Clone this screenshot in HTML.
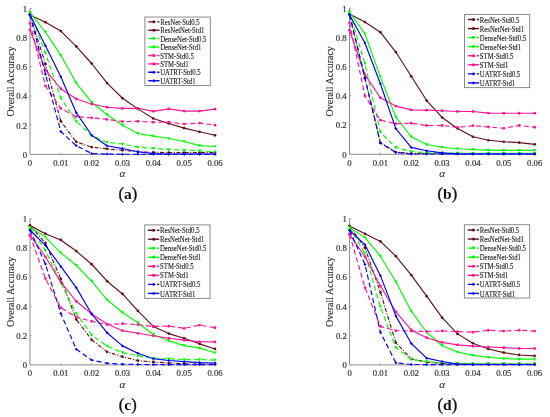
<!DOCTYPE html>
<html><head><meta charset="utf-8"><title>Overall Accuracy vs alpha</title>
<style>
html,body{margin:0;padding:0;background:#fff;}
svg{display:block;filter:blur(0.25px);}
text{font-family:"Liberation Serif","Times New Roman",serif;fill:#333333;}
.tk{font-size:8.7px;stroke:#333333;stroke-width:0.18px;}
.lg{font-size:7.25px;fill:#222;stroke:#222;stroke-width:0.12px;}
.yl{font-size:10px;stroke:#333333;stroke-width:0.15px;}
.al{font-size:11px;font-style:italic;stroke:#333333;stroke-width:0.1px;}
.cap{font-size:15.5px;font-weight:bold;fill:#111;}
.par{font-size:16.5px;font-weight:normal;stroke:#111;stroke-width:0.35px;}
</style></head>
<body>
<svg width="550" height="417" viewBox="0 0 550 417">
<rect width="550" height="417" fill="#fff"/>
<path d="M30.00 8.50V154.40H215.00" fill="none" stroke="#8a8a8a" stroke-width="1"/>
<path d="M30.00 125.22h1.6 M30.00 96.04h1.6 M30.00 66.86h1.6 M30.00 37.68h1.6 M30.00 8.50h1.6 M60.83 154.40v-1.6 M91.67 154.40v-1.6 M122.50 154.40v-1.6 M153.33 154.40v-1.6 M184.17 154.40v-1.6 M215.00 154.40v-1.6" stroke="#8a8a8a" stroke-width="0.8"/>
<text x="27.20" y="157.70" class="tk" text-anchor="end">0</text>
<text x="27.20" y="128.52" class="tk" text-anchor="end">0.2</text>
<text x="27.20" y="99.34" class="tk" text-anchor="end">0.4</text>
<text x="27.20" y="70.16" class="tk" text-anchor="end">0.6</text>
<text x="27.20" y="40.98" class="tk" text-anchor="end">0.8</text>
<text x="27.20" y="11.80" class="tk" text-anchor="end">1</text>
<text x="30.00" y="165.70" class="tk" text-anchor="middle">0</text>
<text x="60.83" y="165.70" class="tk" text-anchor="middle">0.01</text>
<text x="91.67" y="165.70" class="tk" text-anchor="middle">0.02</text>
<text x="122.50" y="165.70" class="tk" text-anchor="middle">0.03</text>
<text x="153.33" y="165.70" class="tk" text-anchor="middle">0.04</text>
<text x="184.17" y="165.70" class="tk" text-anchor="middle">0.05</text>
<text x="215.00" y="165.70" class="tk" text-anchor="middle">0.06</text>
<text x="122.50" y="177.20" class="al" text-anchor="middle">α</text>
<text transform="translate(13.70 81.45) rotate(-90)" class="yl" text-anchor="middle">Overall Accuracy</text>
<text x="127.80" y="199.10" class="cap" text-anchor="middle"><tspan class="par">(</tspan>a<tspan class="par">)</tspan></text>
<polyline points="30.00,14.92 45.42,63.94 60.83,121.28 76.25,141.85 91.67,147.11 107.08,148.86 122.50,150.31 137.92,151.77 153.33,152.36 168.75,152.50 184.17,152.65 199.58,152.65 215.00,152.65" fill="none" stroke="#641018" stroke-width="1.15" stroke-dasharray="4 1.6 1 1.6" stroke-linejoin="round"/>
<circle cx="30.00" cy="14.92" r="1.35" fill="#641018"/>
<circle cx="45.42" cy="63.94" r="1.35" fill="#641018"/>
<circle cx="60.83" cy="121.28" r="1.35" fill="#641018"/>
<circle cx="76.25" cy="141.85" r="1.35" fill="#641018"/>
<circle cx="91.67" cy="147.11" r="1.35" fill="#641018"/>
<circle cx="107.08" cy="148.86" r="1.35" fill="#641018"/>
<circle cx="122.50" cy="150.31" r="1.35" fill="#641018"/>
<circle cx="137.92" cy="151.77" r="1.35" fill="#641018"/>
<circle cx="153.33" cy="152.36" r="1.35" fill="#641018"/>
<circle cx="168.75" cy="152.50" r="1.35" fill="#641018"/>
<circle cx="184.17" cy="152.65" r="1.35" fill="#641018"/>
<circle cx="199.58" cy="152.65" r="1.35" fill="#641018"/>
<circle cx="215.00" cy="152.65" r="1.35" fill="#641018"/>
<polyline points="30.00,14.92 45.42,22.21 60.83,31.11 76.25,46.43 91.67,63.50 107.08,83.05 122.50,98.23 137.92,108.88 153.33,118.51 168.75,123.47 184.17,128.14 199.58,131.79 215.00,135.29" fill="none" stroke="#641018" stroke-width="1.15" stroke-linejoin="round"/>
<circle cx="30.00" cy="14.92" r="1.35" fill="#641018"/>
<circle cx="45.42" cy="22.21" r="1.35" fill="#641018"/>
<circle cx="60.83" cy="31.11" r="1.35" fill="#641018"/>
<circle cx="76.25" cy="46.43" r="1.35" fill="#641018"/>
<circle cx="91.67" cy="63.50" r="1.35" fill="#641018"/>
<circle cx="107.08" cy="83.05" r="1.35" fill="#641018"/>
<circle cx="122.50" cy="98.23" r="1.35" fill="#641018"/>
<circle cx="137.92" cy="108.88" r="1.35" fill="#641018"/>
<circle cx="153.33" cy="118.51" r="1.35" fill="#641018"/>
<circle cx="168.75" cy="123.47" r="1.35" fill="#641018"/>
<circle cx="184.17" cy="128.14" r="1.35" fill="#641018"/>
<circle cx="199.58" cy="131.79" r="1.35" fill="#641018"/>
<circle cx="215.00" cy="135.29" r="1.35" fill="#641018"/>
<polyline points="30.00,12.59 45.42,53.00 60.83,97.94 76.25,121.28 91.67,135.72 107.08,142.29 122.50,144.04 137.92,147.11 153.33,148.27 168.75,149.59 184.17,150.02 199.58,150.90 215.00,151.77" fill="none" stroke="#00ff00" stroke-width="1.15" stroke-dasharray="5 3" stroke-linejoin="round"/>
<path d="M28.30 11.23H31.70L30.00 14.29Z" fill="#00ff00"/>
<path d="M43.72 51.64H47.12L45.42 54.70Z" fill="#00ff00"/>
<path d="M59.13 96.58H62.53L60.83 99.64Z" fill="#00ff00"/>
<path d="M74.55 119.92H77.95L76.25 122.98Z" fill="#00ff00"/>
<path d="M89.97 134.36H93.37L91.67 137.42Z" fill="#00ff00"/>
<path d="M105.38 140.93H108.78L107.08 143.99Z" fill="#00ff00"/>
<path d="M120.80 142.68H124.20L122.50 145.74Z" fill="#00ff00"/>
<path d="M136.22 145.75H139.62L137.92 148.81Z" fill="#00ff00"/>
<path d="M151.63 146.91H155.03L153.33 149.97Z" fill="#00ff00"/>
<path d="M167.05 148.23H170.45L168.75 151.29Z" fill="#00ff00"/>
<path d="M182.47 148.66H185.87L184.17 151.72Z" fill="#00ff00"/>
<path d="M197.88 149.54H201.28L199.58 152.60Z" fill="#00ff00"/>
<path d="M213.30 150.41H216.70L215.00 153.47Z" fill="#00ff00"/>
<polyline points="30.00,12.59 45.42,31.99 60.83,55.33 76.25,83.05 91.67,102.31 107.08,114.72 122.50,125.22 137.92,133.54 153.33,136.16 168.75,138.50 184.17,141.56 199.58,145.65 215.00,146.52" fill="none" stroke="#00ff00" stroke-width="1.15" stroke-linejoin="round"/>
<path d="M28.30 11.23H31.70L30.00 14.29Z" fill="#00ff00"/>
<path d="M43.72 30.63H47.12L45.42 33.69Z" fill="#00ff00"/>
<path d="M59.13 53.97H62.53L60.83 57.03Z" fill="#00ff00"/>
<path d="M74.55 81.69H77.95L76.25 84.75Z" fill="#00ff00"/>
<path d="M89.97 100.95H93.37L91.67 104.01Z" fill="#00ff00"/>
<path d="M105.38 113.36H108.78L107.08 116.42Z" fill="#00ff00"/>
<path d="M120.80 123.86H124.20L122.50 126.92Z" fill="#00ff00"/>
<path d="M136.22 132.18H139.62L137.92 135.24Z" fill="#00ff00"/>
<path d="M151.63 134.80H155.03L153.33 137.86Z" fill="#00ff00"/>
<path d="M167.05 137.14H170.45L168.75 140.20Z" fill="#00ff00"/>
<path d="M182.47 140.20H185.87L184.17 143.26Z" fill="#00ff00"/>
<path d="M197.88 144.29H201.28L199.58 147.35Z" fill="#00ff00"/>
<path d="M213.30 145.16H216.70L215.00 148.22Z" fill="#00ff00"/>
<polyline points="30.00,23.09 45.42,85.83 60.83,108.44 76.25,116.61 91.67,117.78 107.08,119.38 122.50,121.57 137.92,121.28 153.33,122.16 168.75,122.16 184.17,124.05 199.58,123.03 215.00,125.22" fill="none" stroke="#ff1493" stroke-width="1.15" stroke-dasharray="5 3" stroke-linejoin="round"/>
<circle cx="30.00" cy="23.09" r="1.40" fill="#ff1493"/>
<circle cx="45.42" cy="85.83" r="1.40" fill="#ff1493"/>
<circle cx="60.83" cy="108.44" r="1.40" fill="#ff1493"/>
<circle cx="76.25" cy="116.61" r="1.40" fill="#ff1493"/>
<circle cx="91.67" cy="117.78" r="1.40" fill="#ff1493"/>
<circle cx="107.08" cy="119.38" r="1.40" fill="#ff1493"/>
<circle cx="122.50" cy="121.57" r="1.40" fill="#ff1493"/>
<circle cx="137.92" cy="121.28" r="1.40" fill="#ff1493"/>
<circle cx="153.33" cy="122.16" r="1.40" fill="#ff1493"/>
<circle cx="168.75" cy="122.16" r="1.40" fill="#ff1493"/>
<circle cx="184.17" cy="124.05" r="1.40" fill="#ff1493"/>
<circle cx="199.58" cy="123.03" r="1.40" fill="#ff1493"/>
<circle cx="215.00" cy="125.22" r="1.40" fill="#ff1493"/>
<polyline points="30.00,29.95 45.42,69.78 60.83,88.75 76.25,98.96 91.67,104.06 107.08,107.27 122.50,108.44 137.92,108.30 153.33,111.36 168.75,108.88 184.17,111.07 199.58,111.07 215.00,109.17" fill="none" stroke="#ff1493" stroke-width="1.15" stroke-linejoin="round"/>
<circle cx="30.00" cy="29.95" r="1.40" fill="#ff1493"/>
<circle cx="45.42" cy="69.78" r="1.40" fill="#ff1493"/>
<circle cx="60.83" cy="88.75" r="1.40" fill="#ff1493"/>
<circle cx="76.25" cy="98.96" r="1.40" fill="#ff1493"/>
<circle cx="91.67" cy="104.06" r="1.40" fill="#ff1493"/>
<circle cx="107.08" cy="107.27" r="1.40" fill="#ff1493"/>
<circle cx="122.50" cy="108.44" r="1.40" fill="#ff1493"/>
<circle cx="137.92" cy="108.30" r="1.40" fill="#ff1493"/>
<circle cx="153.33" cy="111.36" r="1.40" fill="#ff1493"/>
<circle cx="168.75" cy="108.88" r="1.40" fill="#ff1493"/>
<circle cx="184.17" cy="111.07" r="1.40" fill="#ff1493"/>
<circle cx="199.58" cy="111.07" r="1.40" fill="#ff1493"/>
<circle cx="215.00" cy="109.17" r="1.40" fill="#ff1493"/>
<polyline points="30.00,14.77 45.42,74.16 60.83,131.49 76.25,145.79 91.67,153.52 107.08,154.11 122.50,154.25 137.92,154.25 153.33,154.25 168.75,154.25 184.17,154.25 199.58,154.25 215.00,154.25" fill="none" stroke="#0000ff" stroke-width="1.15" stroke-dasharray="5 3" stroke-linejoin="round"/>
<path d="M30.00 13.27L31.50 14.77L30.00 16.27L28.50 14.77Z" fill="#0000ff"/>
<path d="M45.42 72.66L46.92 74.16L45.42 75.66L43.92 74.16Z" fill="#0000ff"/>
<path d="M60.83 129.99L62.33 131.49L60.83 132.99L59.33 131.49Z" fill="#0000ff"/>
<path d="M76.25 144.29L77.75 145.79L76.25 147.29L74.75 145.79Z" fill="#0000ff"/>
<path d="M91.67 152.02L93.17 153.52L91.67 155.02L90.17 153.52Z" fill="#0000ff"/>
<path d="M107.08 152.61L108.58 154.11L107.08 155.61L105.58 154.11Z" fill="#0000ff"/>
<path d="M122.50 152.75L124.00 154.25L122.50 155.75L121.00 154.25Z" fill="#0000ff"/>
<path d="M137.92 152.75L139.42 154.25L137.92 155.75L136.42 154.25Z" fill="#0000ff"/>
<path d="M153.33 152.75L154.83 154.25L153.33 155.75L151.83 154.25Z" fill="#0000ff"/>
<path d="M168.75 152.75L170.25 154.25L168.75 155.75L167.25 154.25Z" fill="#0000ff"/>
<path d="M184.17 152.75L185.67 154.25L184.17 155.75L182.67 154.25Z" fill="#0000ff"/>
<path d="M199.58 152.75L201.08 154.25L199.58 155.75L198.08 154.25Z" fill="#0000ff"/>
<path d="M215.00 152.75L216.50 154.25L215.00 155.75L213.50 154.25Z" fill="#0000ff"/>
<polyline points="30.00,14.77 45.42,45.70 60.83,76.78 76.25,112.67 91.67,135.29 107.08,145.79 122.50,148.56 137.92,151.77 153.33,153.67 168.75,153.96 184.17,153.96 199.58,153.96 215.00,153.96" fill="none" stroke="#0000ff" stroke-width="1.15" stroke-linejoin="round"/>
<path d="M30.00 13.27L31.50 14.77L30.00 16.27L28.50 14.77Z" fill="#0000ff"/>
<path d="M45.42 44.20L46.92 45.70L45.42 47.20L43.92 45.70Z" fill="#0000ff"/>
<path d="M60.83 75.28L62.33 76.78L60.83 78.28L59.33 76.78Z" fill="#0000ff"/>
<path d="M76.25 111.17L77.75 112.67L76.25 114.17L74.75 112.67Z" fill="#0000ff"/>
<path d="M91.67 133.79L93.17 135.29L91.67 136.79L90.17 135.29Z" fill="#0000ff"/>
<path d="M107.08 144.29L108.58 145.79L107.08 147.29L105.58 145.79Z" fill="#0000ff"/>
<path d="M122.50 147.06L124.00 148.56L122.50 150.06L121.00 148.56Z" fill="#0000ff"/>
<path d="M137.92 150.27L139.42 151.77L137.92 153.27L136.42 151.77Z" fill="#0000ff"/>
<path d="M153.33 152.17L154.83 153.67L153.33 155.17L151.83 153.67Z" fill="#0000ff"/>
<path d="M168.75 152.46L170.25 153.96L168.75 155.46L167.25 153.96Z" fill="#0000ff"/>
<path d="M184.17 152.46L185.67 153.96L184.17 155.46L182.67 153.96Z" fill="#0000ff"/>
<path d="M199.58 152.46L201.08 153.96L199.58 155.46L198.08 153.96Z" fill="#0000ff"/>
<path d="M215.00 152.46L216.50 153.96L215.00 155.46L213.50 153.96Z" fill="#0000ff"/>
<rect x="144.90" y="17.05" width="65.40" height="68.45" fill="#fff" stroke="#8a8a8a" stroke-width="1"/>
<line x1="148.30" y1="21.85" x2="159.50" y2="21.85" stroke="#641018" stroke-width="1.4" stroke-dasharray="7 1.9 2.3 20"/>
<circle cx="153.90" cy="21.85" r="1.51" fill="#641018"/>
<text x="160.20" y="24.95" class="lg" textLength="39.56" lengthAdjust="spacingAndGlyphs">ResNet-Std0.5</text>
<line x1="148.30" y1="30.26" x2="159.50" y2="30.26" stroke="#641018" stroke-width="1.4"/>
<circle cx="153.90" cy="30.26" r="1.51" fill="#641018"/>
<text x="160.20" y="33.36" class="lg" textLength="44.25" lengthAdjust="spacingAndGlyphs">ResNetNet-Std1</text>
<line x1="148.30" y1="38.67" x2="159.50" y2="38.67" stroke="#00ff00" stroke-width="1.4" stroke-dasharray="7 1.9 2.3 20"/>
<path d="M152.00 37.15H155.80L153.90 40.57Z" fill="#00ff00"/>
<text x="160.20" y="41.77" class="lg" textLength="46.30" lengthAdjust="spacingAndGlyphs">DenseNet-Std0.5</text>
<line x1="148.30" y1="47.08" x2="159.50" y2="47.08" stroke="#00ff00" stroke-width="1.4"/>
<path d="M152.00 45.56H155.80L153.90 48.98Z" fill="#00ff00"/>
<text x="160.20" y="50.18" class="lg" textLength="41.24" lengthAdjust="spacingAndGlyphs">DenseNet-Std1</text>
<line x1="148.30" y1="55.49" x2="159.50" y2="55.49" stroke="#ff1493" stroke-width="1.4" stroke-dasharray="7 1.9 2.3 20"/>
<circle cx="153.90" cy="55.49" r="1.57" fill="#ff1493"/>
<text x="160.20" y="58.59" class="lg" textLength="33.57" lengthAdjust="spacingAndGlyphs">STM-Std0.5</text>
<line x1="148.30" y1="63.90" x2="159.50" y2="63.90" stroke="#ff1493" stroke-width="1.4"/>
<circle cx="153.90" cy="63.90" r="1.57" fill="#ff1493"/>
<text x="160.20" y="67.00" class="lg" textLength="28.51" lengthAdjust="spacingAndGlyphs">STM-Std1</text>
<line x1="148.30" y1="72.31" x2="159.50" y2="72.31" stroke="#0000ff" stroke-width="1.4" stroke-dasharray="7 1.9 2.3 20"/>
<path d="M153.90 70.63L155.58 72.31L153.90 73.99L152.22 72.31Z" fill="#0000ff"/>
<text x="160.20" y="75.41" class="lg" textLength="40.41" lengthAdjust="spacingAndGlyphs">UATRT-Std0.5</text>
<line x1="148.30" y1="80.72" x2="159.50" y2="80.72" stroke="#0000ff" stroke-width="1.4"/>
<path d="M153.90 79.04L155.58 80.72L153.90 82.40L152.22 80.72Z" fill="#0000ff"/>
<text x="160.20" y="83.82" class="lg" textLength="35.35" lengthAdjust="spacingAndGlyphs">UATRT-Std1</text>
<path d="M349.50 8.20V154.30H534.70" fill="none" stroke="#8a8a8a" stroke-width="1"/>
<path d="M349.50 125.08h1.6 M349.50 95.86h1.6 M349.50 66.64h1.6 M349.50 37.42h1.6 M349.50 8.20h1.6 M380.37 154.30v-1.6 M411.23 154.30v-1.6 M442.10 154.30v-1.6 M472.97 154.30v-1.6 M503.83 154.30v-1.6 M534.70 154.30v-1.6" stroke="#8a8a8a" stroke-width="0.8"/>
<text x="346.70" y="157.60" class="tk" text-anchor="end">0</text>
<text x="346.70" y="128.38" class="tk" text-anchor="end">0.2</text>
<text x="346.70" y="99.16" class="tk" text-anchor="end">0.4</text>
<text x="346.70" y="69.94" class="tk" text-anchor="end">0.6</text>
<text x="346.70" y="40.72" class="tk" text-anchor="end">0.8</text>
<text x="346.70" y="11.50" class="tk" text-anchor="end">1</text>
<text x="349.50" y="165.60" class="tk" text-anchor="middle">0</text>
<text x="380.37" y="165.60" class="tk" text-anchor="middle">0.01</text>
<text x="411.23" y="165.60" class="tk" text-anchor="middle">0.02</text>
<text x="442.10" y="165.60" class="tk" text-anchor="middle">0.03</text>
<text x="472.97" y="165.60" class="tk" text-anchor="middle">0.04</text>
<text x="503.83" y="165.60" class="tk" text-anchor="middle">0.05</text>
<text x="534.70" y="165.60" class="tk" text-anchor="middle">0.06</text>
<text x="442.10" y="177.10" class="al" text-anchor="middle">α</text>
<text transform="translate(333.20 81.25) rotate(-90)" class="yl" text-anchor="middle">Overall Accuracy</text>
<text x="447.40" y="199.00" class="cap" text-anchor="middle"><tspan class="par">(</tspan>b<tspan class="par">)</tspan></text>
<polyline points="349.50,14.04 364.93,78.33 380.37,142.90 395.80,152.11 411.23,153.42 426.67,153.42 442.10,153.57 457.53,153.72 472.97,153.72 488.40,153.72 503.83,153.72 519.27,153.72 534.70,153.72" fill="none" stroke="#641018" stroke-width="1.15" stroke-dasharray="4 1.6 1 1.6" stroke-linejoin="round"/>
<circle cx="349.50" cy="14.04" r="1.35" fill="#641018"/>
<circle cx="364.93" cy="78.33" r="1.35" fill="#641018"/>
<circle cx="380.37" cy="142.90" r="1.35" fill="#641018"/>
<circle cx="395.80" cy="152.11" r="1.35" fill="#641018"/>
<circle cx="411.23" cy="153.42" r="1.35" fill="#641018"/>
<circle cx="426.67" cy="153.42" r="1.35" fill="#641018"/>
<circle cx="442.10" cy="153.57" r="1.35" fill="#641018"/>
<circle cx="457.53" cy="153.72" r="1.35" fill="#641018"/>
<circle cx="472.97" cy="153.72" r="1.35" fill="#641018"/>
<circle cx="488.40" cy="153.72" r="1.35" fill="#641018"/>
<circle cx="503.83" cy="153.72" r="1.35" fill="#641018"/>
<circle cx="519.27" cy="153.72" r="1.35" fill="#641018"/>
<circle cx="534.70" cy="153.72" r="1.35" fill="#641018"/>
<polyline points="349.50,14.04 364.93,22.08 380.37,32.16 395.80,52.03 411.23,76.28 426.67,100.54 442.10,117.48 457.53,128.44 472.97,136.77 488.40,140.27 503.83,141.74 519.27,142.61 534.70,144.37" fill="none" stroke="#641018" stroke-width="1.15" stroke-linejoin="round"/>
<circle cx="349.50" cy="14.04" r="1.35" fill="#641018"/>
<circle cx="364.93" cy="22.08" r="1.35" fill="#641018"/>
<circle cx="380.37" cy="32.16" r="1.35" fill="#641018"/>
<circle cx="395.80" cy="52.03" r="1.35" fill="#641018"/>
<circle cx="411.23" cy="76.28" r="1.35" fill="#641018"/>
<circle cx="426.67" cy="100.54" r="1.35" fill="#641018"/>
<circle cx="442.10" cy="117.48" r="1.35" fill="#641018"/>
<circle cx="457.53" cy="128.44" r="1.35" fill="#641018"/>
<circle cx="472.97" cy="136.77" r="1.35" fill="#641018"/>
<circle cx="488.40" cy="140.27" r="1.35" fill="#641018"/>
<circle cx="503.83" cy="141.74" r="1.35" fill="#641018"/>
<circle cx="519.27" cy="142.61" r="1.35" fill="#641018"/>
<circle cx="534.70" cy="144.37" r="1.35" fill="#641018"/>
<polyline points="349.50,12.14 364.93,63.72 380.37,132.09 395.80,147.58 411.23,151.52 426.67,152.69 442.10,152.99 457.53,153.13 472.97,153.28 488.40,153.42 503.83,153.42 519.27,153.42 534.70,153.42" fill="none" stroke="#00ff00" stroke-width="1.15" stroke-dasharray="5 3" stroke-linejoin="round"/>
<path d="M347.80 10.78H351.20L349.50 13.84Z" fill="#00ff00"/>
<path d="M363.23 62.36H366.63L364.93 65.42Z" fill="#00ff00"/>
<path d="M378.67 130.73H382.07L380.37 133.79Z" fill="#00ff00"/>
<path d="M394.10 146.22H397.50L395.80 149.28Z" fill="#00ff00"/>
<path d="M409.53 150.16H412.93L411.23 153.22Z" fill="#00ff00"/>
<path d="M424.97 151.33H428.37L426.67 154.39Z" fill="#00ff00"/>
<path d="M440.40 151.63H443.80L442.10 154.69Z" fill="#00ff00"/>
<path d="M455.83 151.77H459.23L457.53 154.83Z" fill="#00ff00"/>
<path d="M471.27 151.92H474.67L472.97 154.98Z" fill="#00ff00"/>
<path d="M486.70 152.06H490.10L488.40 155.12Z" fill="#00ff00"/>
<path d="M502.13 152.06H505.53L503.83 155.12Z" fill="#00ff00"/>
<path d="M517.57 152.06H520.97L519.27 155.12Z" fill="#00ff00"/>
<path d="M533.00 152.06H536.40L534.70 155.12Z" fill="#00ff00"/>
<polyline points="349.50,12.14 364.93,33.77 380.37,76.87 395.80,117.04 411.23,136.77 426.67,144.51 442.10,147.29 457.53,148.75 472.97,149.48 488.40,150.06 503.83,150.36 519.27,150.36 534.70,150.36" fill="none" stroke="#00ff00" stroke-width="1.15" stroke-linejoin="round"/>
<path d="M347.80 10.78H351.20L349.50 13.84Z" fill="#00ff00"/>
<path d="M363.23 32.41H366.63L364.93 35.47Z" fill="#00ff00"/>
<path d="M378.67 75.51H382.07L380.37 78.57Z" fill="#00ff00"/>
<path d="M394.10 115.68H397.50L395.80 118.74Z" fill="#00ff00"/>
<path d="M409.53 135.41H412.93L411.23 138.47Z" fill="#00ff00"/>
<path d="M424.97 143.15H428.37L426.67 146.21Z" fill="#00ff00"/>
<path d="M440.40 145.93H443.80L442.10 148.99Z" fill="#00ff00"/>
<path d="M455.83 147.39H459.23L457.53 150.45Z" fill="#00ff00"/>
<path d="M471.27 148.12H474.67L472.97 151.18Z" fill="#00ff00"/>
<path d="M486.70 148.70H490.10L488.40 151.76Z" fill="#00ff00"/>
<path d="M502.13 149.00H505.53L503.83 152.06Z" fill="#00ff00"/>
<path d="M517.57 149.00H520.97L519.27 152.06Z" fill="#00ff00"/>
<path d="M533.00 149.00H536.40L534.70 152.06Z" fill="#00ff00"/>
<polyline points="349.50,22.81 364.93,95.86 380.37,120.11 395.80,123.62 411.23,123.18 426.67,125.52 442.10,125.52 457.53,127.42 472.97,125.66 488.40,126.98 503.83,128.29 519.27,125.52 534.70,127.27" fill="none" stroke="#ff1493" stroke-width="1.15" stroke-dasharray="5 3" stroke-linejoin="round"/>
<circle cx="349.50" cy="22.81" r="1.40" fill="#ff1493"/>
<circle cx="364.93" cy="95.86" r="1.40" fill="#ff1493"/>
<circle cx="380.37" cy="120.11" r="1.40" fill="#ff1493"/>
<circle cx="395.80" cy="123.62" r="1.40" fill="#ff1493"/>
<circle cx="411.23" cy="123.18" r="1.40" fill="#ff1493"/>
<circle cx="426.67" cy="125.52" r="1.40" fill="#ff1493"/>
<circle cx="442.10" cy="125.52" r="1.40" fill="#ff1493"/>
<circle cx="457.53" cy="127.42" r="1.40" fill="#ff1493"/>
<circle cx="472.97" cy="125.66" r="1.40" fill="#ff1493"/>
<circle cx="488.40" cy="126.98" r="1.40" fill="#ff1493"/>
<circle cx="503.83" cy="128.29" r="1.40" fill="#ff1493"/>
<circle cx="519.27" cy="125.52" r="1.40" fill="#ff1493"/>
<circle cx="534.70" cy="127.27" r="1.40" fill="#ff1493"/>
<polyline points="349.50,30.26 364.93,74.68 380.37,97.76 395.80,106.09 411.23,109.89 426.67,110.18 442.10,110.76 457.53,111.49 472.97,111.49 488.40,113.10 503.83,113.25 519.27,113.25 534.70,113.25" fill="none" stroke="#ff1493" stroke-width="1.15" stroke-linejoin="round"/>
<circle cx="349.50" cy="30.26" r="1.40" fill="#ff1493"/>
<circle cx="364.93" cy="74.68" r="1.40" fill="#ff1493"/>
<circle cx="380.37" cy="97.76" r="1.40" fill="#ff1493"/>
<circle cx="395.80" cy="106.09" r="1.40" fill="#ff1493"/>
<circle cx="411.23" cy="109.89" r="1.40" fill="#ff1493"/>
<circle cx="426.67" cy="110.18" r="1.40" fill="#ff1493"/>
<circle cx="442.10" cy="110.76" r="1.40" fill="#ff1493"/>
<circle cx="457.53" cy="111.49" r="1.40" fill="#ff1493"/>
<circle cx="472.97" cy="111.49" r="1.40" fill="#ff1493"/>
<circle cx="488.40" cy="113.10" r="1.40" fill="#ff1493"/>
<circle cx="503.83" cy="113.25" r="1.40" fill="#ff1493"/>
<circle cx="519.27" cy="113.25" r="1.40" fill="#ff1493"/>
<circle cx="534.70" cy="113.25" r="1.40" fill="#ff1493"/>
<polyline points="349.50,14.77 364.93,77.60 380.37,142.90 395.80,152.40 411.23,154.01 426.67,154.01 442.10,154.01 457.53,154.01 472.97,154.01 488.40,154.01 503.83,154.01 519.27,154.01 534.70,154.01" fill="none" stroke="#0000ff" stroke-width="1.15" stroke-dasharray="5 3" stroke-linejoin="round"/>
<path d="M349.50 13.27L351.00 14.77L349.50 16.27L348.00 14.77Z" fill="#0000ff"/>
<path d="M364.93 76.10L366.43 77.60L364.93 79.10L363.43 77.60Z" fill="#0000ff"/>
<path d="M380.37 141.40L381.87 142.90L380.37 144.40L378.87 142.90Z" fill="#0000ff"/>
<path d="M395.80 150.90L397.30 152.40L395.80 153.90L394.30 152.40Z" fill="#0000ff"/>
<path d="M411.23 152.51L412.73 154.01L411.23 155.51L409.73 154.01Z" fill="#0000ff"/>
<path d="M426.67 152.51L428.17 154.01L426.67 155.51L425.17 154.01Z" fill="#0000ff"/>
<path d="M442.10 152.51L443.60 154.01L442.10 155.51L440.60 154.01Z" fill="#0000ff"/>
<path d="M457.53 152.51L459.03 154.01L457.53 155.51L456.03 154.01Z" fill="#0000ff"/>
<path d="M472.97 152.51L474.47 154.01L472.97 155.51L471.47 154.01Z" fill="#0000ff"/>
<path d="M488.40 152.51L489.90 154.01L488.40 155.51L486.90 154.01Z" fill="#0000ff"/>
<path d="M503.83 152.51L505.33 154.01L503.83 155.51L502.33 154.01Z" fill="#0000ff"/>
<path d="M519.27 152.51L520.77 154.01L519.27 155.51L517.77 154.01Z" fill="#0000ff"/>
<path d="M534.70 152.51L536.20 154.01L534.70 155.51L533.20 154.01Z" fill="#0000ff"/>
<polyline points="349.50,14.77 364.93,42.97 380.37,83.73 395.80,128.59 411.23,147.43 426.67,150.79 442.10,152.84 457.53,153.86 472.97,154.01 488.40,154.01 503.83,154.01 519.27,154.01 534.70,154.01" fill="none" stroke="#0000ff" stroke-width="1.15" stroke-linejoin="round"/>
<path d="M349.50 13.27L351.00 14.77L349.50 16.27L348.00 14.77Z" fill="#0000ff"/>
<path d="M364.93 41.47L366.43 42.97L364.93 44.47L363.43 42.97Z" fill="#0000ff"/>
<path d="M380.37 82.23L381.87 83.73L380.37 85.23L378.87 83.73Z" fill="#0000ff"/>
<path d="M395.80 127.09L397.30 128.59L395.80 130.09L394.30 128.59Z" fill="#0000ff"/>
<path d="M411.23 145.93L412.73 147.43L411.23 148.93L409.73 147.43Z" fill="#0000ff"/>
<path d="M426.67 149.29L428.17 150.79L426.67 152.29L425.17 150.79Z" fill="#0000ff"/>
<path d="M442.10 151.34L443.60 152.84L442.10 154.34L440.60 152.84Z" fill="#0000ff"/>
<path d="M457.53 152.36L459.03 153.86L457.53 155.36L456.03 153.86Z" fill="#0000ff"/>
<path d="M472.97 152.51L474.47 154.01L472.97 155.51L471.47 154.01Z" fill="#0000ff"/>
<path d="M488.40 152.51L489.90 154.01L488.40 155.51L486.90 154.01Z" fill="#0000ff"/>
<path d="M503.83 152.51L505.33 154.01L503.83 155.51L502.33 154.01Z" fill="#0000ff"/>
<path d="M519.27 152.51L520.77 154.01L519.27 155.51L517.77 154.01Z" fill="#0000ff"/>
<path d="M534.70 152.51L536.20 154.01L534.70 155.51L533.20 154.01Z" fill="#0000ff"/>
<rect x="464.50" y="14.50" width="65.20" height="73.10" fill="#fff" stroke="#8a8a8a" stroke-width="1"/>
<line x1="467.90" y1="19.50" x2="479.10" y2="19.50" stroke="#641018" stroke-width="1.4" stroke-dasharray="7 1.9 2.3 20"/>
<circle cx="473.50" cy="19.50" r="1.51" fill="#641018"/>
<text x="479.80" y="22.60" class="lg" textLength="39.56" lengthAdjust="spacingAndGlyphs">ResNet-Std0.5</text>
<line x1="467.90" y1="28.56" x2="479.10" y2="28.56" stroke="#641018" stroke-width="1.4"/>
<circle cx="473.50" cy="28.56" r="1.51" fill="#641018"/>
<text x="479.80" y="31.66" class="lg" textLength="44.25" lengthAdjust="spacingAndGlyphs">ResNetNet-Std1</text>
<line x1="467.90" y1="37.62" x2="479.10" y2="37.62" stroke="#00ff00" stroke-width="1.4" stroke-dasharray="7 1.9 2.3 20"/>
<path d="M471.60 36.10H475.40L473.50 39.52Z" fill="#00ff00"/>
<text x="479.80" y="40.72" class="lg" textLength="46.30" lengthAdjust="spacingAndGlyphs">DenseNet-Std0.5</text>
<line x1="467.90" y1="46.68" x2="479.10" y2="46.68" stroke="#00ff00" stroke-width="1.4"/>
<path d="M471.60 45.16H475.40L473.50 48.58Z" fill="#00ff00"/>
<text x="479.80" y="49.78" class="lg" textLength="41.24" lengthAdjust="spacingAndGlyphs">DenseNet-Std1</text>
<line x1="467.90" y1="55.74" x2="479.10" y2="55.74" stroke="#ff1493" stroke-width="1.4" stroke-dasharray="7 1.9 2.3 20"/>
<circle cx="473.50" cy="55.74" r="1.57" fill="#ff1493"/>
<text x="479.80" y="58.84" class="lg" textLength="33.57" lengthAdjust="spacingAndGlyphs">STM-Std0.5</text>
<line x1="467.90" y1="64.80" x2="479.10" y2="64.80" stroke="#ff1493" stroke-width="1.4"/>
<circle cx="473.50" cy="64.80" r="1.57" fill="#ff1493"/>
<text x="479.80" y="67.90" class="lg" textLength="28.51" lengthAdjust="spacingAndGlyphs">STM-Std1</text>
<line x1="467.90" y1="73.86" x2="479.10" y2="73.86" stroke="#0000ff" stroke-width="1.4" stroke-dasharray="7 1.9 2.3 20"/>
<path d="M473.50 72.18L475.18 73.86L473.50 75.54L471.82 73.86Z" fill="#0000ff"/>
<text x="479.80" y="76.96" class="lg" textLength="40.41" lengthAdjust="spacingAndGlyphs">UATRT-Std0.5</text>
<line x1="467.90" y1="82.92" x2="479.10" y2="82.92" stroke="#0000ff" stroke-width="1.4"/>
<path d="M473.50 81.24L475.18 82.92L473.50 84.60L471.82 82.92Z" fill="#0000ff"/>
<text x="479.80" y="86.02" class="lg" textLength="35.35" lengthAdjust="spacingAndGlyphs">UATRT-Std1</text>
<path d="M30.00 218.60V364.90H215.00" fill="none" stroke="#8a8a8a" stroke-width="1"/>
<path d="M30.00 335.64h1.6 M30.00 306.38h1.6 M30.00 277.12h1.6 M30.00 247.86h1.6 M30.00 218.60h1.6 M60.83 364.90v-1.6 M91.67 364.90v-1.6 M122.50 364.90v-1.6 M153.33 364.90v-1.6 M184.17 364.90v-1.6 M215.00 364.90v-1.6" stroke="#8a8a8a" stroke-width="0.8"/>
<text x="27.20" y="368.20" class="tk" text-anchor="end">0</text>
<text x="27.20" y="338.94" class="tk" text-anchor="end">0.2</text>
<text x="27.20" y="309.68" class="tk" text-anchor="end">0.4</text>
<text x="27.20" y="280.42" class="tk" text-anchor="end">0.6</text>
<text x="27.20" y="251.16" class="tk" text-anchor="end">0.8</text>
<text x="27.20" y="221.90" class="tk" text-anchor="end">1</text>
<text x="30.00" y="376.20" class="tk" text-anchor="middle">0</text>
<text x="60.83" y="376.20" class="tk" text-anchor="middle">0.01</text>
<text x="91.67" y="376.20" class="tk" text-anchor="middle">0.02</text>
<text x="122.50" y="376.20" class="tk" text-anchor="middle">0.03</text>
<text x="153.33" y="376.20" class="tk" text-anchor="middle">0.04</text>
<text x="184.17" y="376.20" class="tk" text-anchor="middle">0.05</text>
<text x="215.00" y="376.20" class="tk" text-anchor="middle">0.06</text>
<text x="122.50" y="387.70" class="al" text-anchor="middle">α</text>
<text transform="translate(13.70 291.75) rotate(-90)" class="yl" text-anchor="middle">Overall Accuracy</text>
<text x="127.80" y="409.60" class="cap" text-anchor="middle"><tspan class="par">(</tspan>c<tspan class="par">)</tspan></text>
<polyline points="30.00,225.62 45.42,242.89 60.83,278.88 76.25,319.40 91.67,339.88 107.08,351.88 122.50,356.71 137.92,360.66 153.33,361.97 168.75,363.00 184.17,363.88 199.58,364.17 215.00,364.17" fill="none" stroke="#641018" stroke-width="1.15" stroke-dasharray="4 1.6 1 1.6" stroke-linejoin="round"/>
<circle cx="30.00" cy="225.62" r="1.35" fill="#641018"/>
<circle cx="45.42" cy="242.89" r="1.35" fill="#641018"/>
<circle cx="60.83" cy="278.88" r="1.35" fill="#641018"/>
<circle cx="76.25" cy="319.40" r="1.35" fill="#641018"/>
<circle cx="91.67" cy="339.88" r="1.35" fill="#641018"/>
<circle cx="107.08" cy="351.88" r="1.35" fill="#641018"/>
<circle cx="122.50" cy="356.71" r="1.35" fill="#641018"/>
<circle cx="137.92" cy="360.66" r="1.35" fill="#641018"/>
<circle cx="153.33" cy="361.97" r="1.35" fill="#641018"/>
<circle cx="168.75" cy="363.00" r="1.35" fill="#641018"/>
<circle cx="184.17" cy="363.88" r="1.35" fill="#641018"/>
<circle cx="199.58" cy="364.17" r="1.35" fill="#641018"/>
<circle cx="215.00" cy="364.17" r="1.35" fill="#641018"/>
<polyline points="30.00,225.62 45.42,233.67 60.83,239.96 76.25,251.08 91.67,264.25 107.08,281.22 122.50,293.94 137.92,310.92 153.33,326.42 168.75,333.59 184.17,338.27 199.58,343.83 215.00,348.95" fill="none" stroke="#641018" stroke-width="1.15" stroke-linejoin="round"/>
<circle cx="30.00" cy="225.62" r="1.35" fill="#641018"/>
<circle cx="45.42" cy="233.67" r="1.35" fill="#641018"/>
<circle cx="60.83" cy="239.96" r="1.35" fill="#641018"/>
<circle cx="76.25" cy="251.08" r="1.35" fill="#641018"/>
<circle cx="91.67" cy="264.25" r="1.35" fill="#641018"/>
<circle cx="107.08" cy="281.22" r="1.35" fill="#641018"/>
<circle cx="122.50" cy="293.94" r="1.35" fill="#641018"/>
<circle cx="137.92" cy="310.92" r="1.35" fill="#641018"/>
<circle cx="153.33" cy="326.42" r="1.35" fill="#641018"/>
<circle cx="168.75" cy="333.59" r="1.35" fill="#641018"/>
<circle cx="184.17" cy="338.27" r="1.35" fill="#641018"/>
<circle cx="199.58" cy="343.83" r="1.35" fill="#641018"/>
<circle cx="215.00" cy="348.95" r="1.35" fill="#641018"/>
<polyline points="30.00,227.38 45.42,250.49 60.83,282.97 76.25,313.40 91.67,335.05 107.08,346.03 122.50,352.61 137.92,355.83 153.33,358.32 168.75,358.76 184.17,359.63 199.58,359.63 215.00,360.07" fill="none" stroke="#00ff00" stroke-width="1.15" stroke-dasharray="5 3" stroke-linejoin="round"/>
<path d="M28.30 226.02H31.70L30.00 229.08Z" fill="#00ff00"/>
<path d="M43.72 249.13H47.12L45.42 252.19Z" fill="#00ff00"/>
<path d="M59.13 281.61H62.53L60.83 284.67Z" fill="#00ff00"/>
<path d="M74.55 312.04H77.95L76.25 315.10Z" fill="#00ff00"/>
<path d="M89.97 333.69H93.37L91.67 336.75Z" fill="#00ff00"/>
<path d="M105.38 344.67H108.78L107.08 347.73Z" fill="#00ff00"/>
<path d="M120.80 351.25H124.20L122.50 354.31Z" fill="#00ff00"/>
<path d="M136.22 354.47H139.62L137.92 357.53Z" fill="#00ff00"/>
<path d="M151.63 356.96H155.03L153.33 360.02Z" fill="#00ff00"/>
<path d="M167.05 357.40H170.45L168.75 360.46Z" fill="#00ff00"/>
<path d="M182.47 358.27H185.87L184.17 361.33Z" fill="#00ff00"/>
<path d="M197.88 358.27H201.28L199.58 361.33Z" fill="#00ff00"/>
<path d="M213.30 358.71H216.70L215.00 361.77Z" fill="#00ff00"/>
<polyline points="30.00,227.38 45.42,237.03 60.83,252.83 76.25,265.27 91.67,281.22 107.08,299.80 122.50,312.52 137.92,322.77 153.33,334.47 168.75,340.91 184.17,345.59 199.58,348.08 215.00,352.76" fill="none" stroke="#00ff00" stroke-width="1.15" stroke-linejoin="round"/>
<path d="M28.30 226.02H31.70L30.00 229.08Z" fill="#00ff00"/>
<path d="M43.72 235.67H47.12L45.42 238.73Z" fill="#00ff00"/>
<path d="M59.13 251.47H62.53L60.83 254.53Z" fill="#00ff00"/>
<path d="M74.55 263.91H77.95L76.25 266.97Z" fill="#00ff00"/>
<path d="M89.97 279.86H93.37L91.67 282.92Z" fill="#00ff00"/>
<path d="M105.38 298.44H108.78L107.08 301.50Z" fill="#00ff00"/>
<path d="M120.80 311.16H124.20L122.50 314.22Z" fill="#00ff00"/>
<path d="M136.22 321.41H139.62L137.92 324.47Z" fill="#00ff00"/>
<path d="M151.63 333.11H155.03L153.33 336.17Z" fill="#00ff00"/>
<path d="M167.05 339.55H170.45L168.75 342.61Z" fill="#00ff00"/>
<path d="M182.47 344.23H185.87L184.17 347.29Z" fill="#00ff00"/>
<path d="M197.88 346.72H201.28L199.58 349.78Z" fill="#00ff00"/>
<path d="M213.30 351.40H216.70L215.00 354.46Z" fill="#00ff00"/>
<polyline points="30.00,235.13 45.42,278.58 60.83,307.70 76.25,317.06 91.67,321.30 107.08,324.52 122.50,323.64 137.92,324.67 153.33,326.42 168.75,326.13 184.17,328.32 199.58,325.11 215.00,327.74" fill="none" stroke="#ff1493" stroke-width="1.15" stroke-dasharray="5 3" stroke-linejoin="round"/>
<circle cx="30.00" cy="235.13" r="1.40" fill="#ff1493"/>
<circle cx="45.42" cy="278.58" r="1.40" fill="#ff1493"/>
<circle cx="60.83" cy="307.70" r="1.40" fill="#ff1493"/>
<circle cx="76.25" cy="317.06" r="1.40" fill="#ff1493"/>
<circle cx="91.67" cy="321.30" r="1.40" fill="#ff1493"/>
<circle cx="107.08" cy="324.52" r="1.40" fill="#ff1493"/>
<circle cx="122.50" cy="323.64" r="1.40" fill="#ff1493"/>
<circle cx="137.92" cy="324.67" r="1.40" fill="#ff1493"/>
<circle cx="153.33" cy="326.42" r="1.40" fill="#ff1493"/>
<circle cx="168.75" cy="326.13" r="1.40" fill="#ff1493"/>
<circle cx="184.17" cy="328.32" r="1.40" fill="#ff1493"/>
<circle cx="199.58" cy="325.11" r="1.40" fill="#ff1493"/>
<circle cx="215.00" cy="327.74" r="1.40" fill="#ff1493"/>
<polyline points="30.00,235.13 45.42,256.78 60.83,282.09 76.25,301.26 91.67,313.99 107.08,324.08 122.50,330.67 137.92,333.30 153.33,335.79 168.75,338.27 184.17,340.18 199.58,341.78 215.00,341.93" fill="none" stroke="#ff1493" stroke-width="1.15" stroke-linejoin="round"/>
<circle cx="30.00" cy="235.13" r="1.40" fill="#ff1493"/>
<circle cx="45.42" cy="256.78" r="1.40" fill="#ff1493"/>
<circle cx="60.83" cy="282.09" r="1.40" fill="#ff1493"/>
<circle cx="76.25" cy="301.26" r="1.40" fill="#ff1493"/>
<circle cx="91.67" cy="313.99" r="1.40" fill="#ff1493"/>
<circle cx="107.08" cy="324.08" r="1.40" fill="#ff1493"/>
<circle cx="122.50" cy="330.67" r="1.40" fill="#ff1493"/>
<circle cx="137.92" cy="333.30" r="1.40" fill="#ff1493"/>
<circle cx="153.33" cy="335.79" r="1.40" fill="#ff1493"/>
<circle cx="168.75" cy="338.27" r="1.40" fill="#ff1493"/>
<circle cx="184.17" cy="340.18" r="1.40" fill="#ff1493"/>
<circle cx="199.58" cy="341.78" r="1.40" fill="#ff1493"/>
<circle cx="215.00" cy="341.93" r="1.40" fill="#ff1493"/>
<polyline points="30.00,230.01 45.42,263.95 60.83,313.55 76.25,349.25 91.67,360.07 107.08,363.29 122.50,364.17 137.92,364.46 153.33,364.61 168.75,364.61 184.17,364.61 199.58,364.61 215.00,364.61" fill="none" stroke="#0000ff" stroke-width="1.15" stroke-dasharray="5 3" stroke-linejoin="round"/>
<path d="M30.00 228.51L31.50 230.01L30.00 231.51L28.50 230.01Z" fill="#0000ff"/>
<path d="M45.42 262.45L46.92 263.95L45.42 265.45L43.92 263.95Z" fill="#0000ff"/>
<path d="M60.83 312.05L62.33 313.55L60.83 315.05L59.33 313.55Z" fill="#0000ff"/>
<path d="M76.25 347.75L77.75 349.25L76.25 350.75L74.75 349.25Z" fill="#0000ff"/>
<path d="M91.67 358.57L93.17 360.07L91.67 361.57L90.17 360.07Z" fill="#0000ff"/>
<path d="M107.08 361.79L108.58 363.29L107.08 364.79L105.58 363.29Z" fill="#0000ff"/>
<path d="M122.50 362.67L124.00 364.17L122.50 365.67L121.00 364.17Z" fill="#0000ff"/>
<path d="M137.92 362.96L139.42 364.46L137.92 365.96L136.42 364.46Z" fill="#0000ff"/>
<path d="M153.33 363.11L154.83 364.61L153.33 366.11L151.83 364.61Z" fill="#0000ff"/>
<path d="M168.75 363.11L170.25 364.61L168.75 366.11L167.25 364.61Z" fill="#0000ff"/>
<path d="M184.17 363.11L185.67 364.61L184.17 366.11L182.67 364.61Z" fill="#0000ff"/>
<path d="M199.58 363.11L201.08 364.61L199.58 366.11L198.08 364.61Z" fill="#0000ff"/>
<path d="M215.00 363.11L216.50 364.61L215.00 366.11L213.50 364.61Z" fill="#0000ff"/>
<polyline points="30.00,230.01 45.42,245.37 60.83,266.44 76.25,287.65 91.67,313.99 107.08,332.71 122.50,345.88 137.92,353.20 153.33,358.76 168.75,360.51 184.17,361.68 199.58,362.56 215.00,363.00" fill="none" stroke="#0000ff" stroke-width="1.15" stroke-linejoin="round"/>
<path d="M30.00 228.51L31.50 230.01L30.00 231.51L28.50 230.01Z" fill="#0000ff"/>
<path d="M45.42 243.87L46.92 245.37L45.42 246.87L43.92 245.37Z" fill="#0000ff"/>
<path d="M60.83 264.94L62.33 266.44L60.83 267.94L59.33 266.44Z" fill="#0000ff"/>
<path d="M76.25 286.15L77.75 287.65L76.25 289.15L74.75 287.65Z" fill="#0000ff"/>
<path d="M91.67 312.49L93.17 313.99L91.67 315.49L90.17 313.99Z" fill="#0000ff"/>
<path d="M107.08 331.21L108.58 332.71L107.08 334.21L105.58 332.71Z" fill="#0000ff"/>
<path d="M122.50 344.38L124.00 345.88L122.50 347.38L121.00 345.88Z" fill="#0000ff"/>
<path d="M137.92 351.70L139.42 353.20L137.92 354.70L136.42 353.20Z" fill="#0000ff"/>
<path d="M153.33 357.26L154.83 358.76L153.33 360.26L151.83 358.76Z" fill="#0000ff"/>
<path d="M168.75 359.01L170.25 360.51L168.75 362.01L167.25 360.51Z" fill="#0000ff"/>
<path d="M184.17 360.18L185.67 361.68L184.17 363.18L182.67 361.68Z" fill="#0000ff"/>
<path d="M199.58 361.06L201.08 362.56L199.58 364.06L198.08 362.56Z" fill="#0000ff"/>
<path d="M215.00 361.50L216.50 363.00L215.00 364.50L213.50 363.00Z" fill="#0000ff"/>
<rect x="144.70" y="224.90" width="65.30" height="73.50" fill="#fff" stroke="#8a8a8a" stroke-width="1"/>
<line x1="148.10" y1="230.20" x2="159.30" y2="230.20" stroke="#641018" stroke-width="1.4" stroke-dasharray="7 1.9 2.3 20"/>
<circle cx="153.70" cy="230.20" r="1.51" fill="#641018"/>
<text x="160.00" y="233.30" class="lg" textLength="39.56" lengthAdjust="spacingAndGlyphs">ResNet-Std0.5</text>
<line x1="148.10" y1="239.23" x2="159.30" y2="239.23" stroke="#641018" stroke-width="1.4"/>
<circle cx="153.70" cy="239.23" r="1.51" fill="#641018"/>
<text x="160.00" y="242.33" class="lg" textLength="44.25" lengthAdjust="spacingAndGlyphs">ResNetNet-Std1</text>
<line x1="148.10" y1="248.26" x2="159.30" y2="248.26" stroke="#00ff00" stroke-width="1.4" stroke-dasharray="7 1.9 2.3 20"/>
<path d="M151.80 246.74H155.60L153.70 250.16Z" fill="#00ff00"/>
<text x="160.00" y="251.36" class="lg" textLength="46.30" lengthAdjust="spacingAndGlyphs">DenseNet-Std0.5</text>
<line x1="148.10" y1="257.29" x2="159.30" y2="257.29" stroke="#00ff00" stroke-width="1.4"/>
<path d="M151.80 255.77H155.60L153.70 259.19Z" fill="#00ff00"/>
<text x="160.00" y="260.39" class="lg" textLength="41.24" lengthAdjust="spacingAndGlyphs">DenseNet-Std1</text>
<line x1="148.10" y1="266.32" x2="159.30" y2="266.32" stroke="#ff1493" stroke-width="1.4" stroke-dasharray="7 1.9 2.3 20"/>
<circle cx="153.70" cy="266.32" r="1.57" fill="#ff1493"/>
<text x="160.00" y="269.42" class="lg" textLength="33.57" lengthAdjust="spacingAndGlyphs">STM-Std0.5</text>
<line x1="148.10" y1="275.35" x2="159.30" y2="275.35" stroke="#ff1493" stroke-width="1.4"/>
<circle cx="153.70" cy="275.35" r="1.57" fill="#ff1493"/>
<text x="160.00" y="278.45" class="lg" textLength="28.51" lengthAdjust="spacingAndGlyphs">STM-Std1</text>
<line x1="148.10" y1="284.38" x2="159.30" y2="284.38" stroke="#0000ff" stroke-width="1.4" stroke-dasharray="7 1.9 2.3 20"/>
<path d="M153.70 282.70L155.38 284.38L153.70 286.06L152.02 284.38Z" fill="#0000ff"/>
<text x="160.00" y="287.48" class="lg" textLength="40.41" lengthAdjust="spacingAndGlyphs">UATRT-Std0.5</text>
<line x1="148.10" y1="293.41" x2="159.30" y2="293.41" stroke="#0000ff" stroke-width="1.4"/>
<path d="M153.70 291.73L155.38 293.41L153.70 295.09L152.02 293.41Z" fill="#0000ff"/>
<text x="160.00" y="296.51" class="lg" textLength="35.35" lengthAdjust="spacingAndGlyphs">UATRT-Std1</text>
<path d="M349.60 218.60V364.90H534.60" fill="none" stroke="#8a8a8a" stroke-width="1"/>
<path d="M349.60 335.64h1.6 M349.60 306.38h1.6 M349.60 277.12h1.6 M349.60 247.86h1.6 M349.60 218.60h1.6 M380.43 364.90v-1.6 M411.27 364.90v-1.6 M442.10 364.90v-1.6 M472.93 364.90v-1.6 M503.77 364.90v-1.6 M534.60 364.90v-1.6" stroke="#8a8a8a" stroke-width="0.8"/>
<text x="346.80" y="368.20" class="tk" text-anchor="end">0</text>
<text x="346.80" y="338.94" class="tk" text-anchor="end">0.2</text>
<text x="346.80" y="309.68" class="tk" text-anchor="end">0.4</text>
<text x="346.80" y="280.42" class="tk" text-anchor="end">0.6</text>
<text x="346.80" y="251.16" class="tk" text-anchor="end">0.8</text>
<text x="346.80" y="221.90" class="tk" text-anchor="end">1</text>
<text x="349.60" y="376.20" class="tk" text-anchor="middle">0</text>
<text x="380.43" y="376.20" class="tk" text-anchor="middle">0.01</text>
<text x="411.27" y="376.20" class="tk" text-anchor="middle">0.02</text>
<text x="442.10" y="376.20" class="tk" text-anchor="middle">0.03</text>
<text x="472.93" y="376.20" class="tk" text-anchor="middle">0.04</text>
<text x="503.77" y="376.20" class="tk" text-anchor="middle">0.05</text>
<text x="534.60" y="376.20" class="tk" text-anchor="middle">0.06</text>
<text x="442.10" y="387.70" class="al" text-anchor="middle">α</text>
<text transform="translate(333.30 291.75) rotate(-90)" class="yl" text-anchor="middle">Overall Accuracy</text>
<text x="447.40" y="409.60" class="cap" text-anchor="middle"><tspan class="par">(</tspan>d<tspan class="par">)</tspan></text>
<polyline points="349.60,226.06 365.02,247.86 380.43,292.34 395.85,342.66 411.27,358.90 426.68,362.12 442.10,363.58 457.52,364.02 472.93,364.17 488.35,364.17 503.77,364.17 519.18,364.17 534.60,364.17" fill="none" stroke="#641018" stroke-width="1.15" stroke-dasharray="4 1.6 1 1.6" stroke-linejoin="round"/>
<circle cx="349.60" cy="226.06" r="1.35" fill="#641018"/>
<circle cx="365.02" cy="247.86" r="1.35" fill="#641018"/>
<circle cx="380.43" cy="292.34" r="1.35" fill="#641018"/>
<circle cx="395.85" cy="342.66" r="1.35" fill="#641018"/>
<circle cx="411.27" cy="358.90" r="1.35" fill="#641018"/>
<circle cx="426.68" cy="362.12" r="1.35" fill="#641018"/>
<circle cx="442.10" cy="363.58" r="1.35" fill="#641018"/>
<circle cx="457.52" cy="364.02" r="1.35" fill="#641018"/>
<circle cx="472.93" cy="364.17" r="1.35" fill="#641018"/>
<circle cx="488.35" cy="364.17" r="1.35" fill="#641018"/>
<circle cx="503.77" cy="364.17" r="1.35" fill="#641018"/>
<circle cx="519.18" cy="364.17" r="1.35" fill="#641018"/>
<circle cx="534.60" cy="364.17" r="1.35" fill="#641018"/>
<polyline points="349.60,226.06 365.02,233.82 380.43,241.42 395.85,256.20 411.27,275.07 426.68,296.14 442.10,317.65 457.52,333.88 472.93,343.25 488.35,348.95 503.77,352.61 519.18,354.95 534.60,355.83" fill="none" stroke="#641018" stroke-width="1.15" stroke-linejoin="round"/>
<circle cx="349.60" cy="226.06" r="1.35" fill="#641018"/>
<circle cx="365.02" cy="233.82" r="1.35" fill="#641018"/>
<circle cx="380.43" cy="241.42" r="1.35" fill="#641018"/>
<circle cx="395.85" cy="256.20" r="1.35" fill="#641018"/>
<circle cx="411.27" cy="275.07" r="1.35" fill="#641018"/>
<circle cx="426.68" cy="296.14" r="1.35" fill="#641018"/>
<circle cx="442.10" cy="317.65" r="1.35" fill="#641018"/>
<circle cx="457.52" cy="333.88" r="1.35" fill="#641018"/>
<circle cx="472.93" cy="343.25" r="1.35" fill="#641018"/>
<circle cx="488.35" cy="348.95" r="1.35" fill="#641018"/>
<circle cx="503.77" cy="352.61" r="1.35" fill="#641018"/>
<circle cx="519.18" cy="354.95" r="1.35" fill="#641018"/>
<circle cx="534.60" cy="355.83" r="1.35" fill="#641018"/>
<polyline points="349.60,227.38 365.02,253.42 380.43,306.82 395.85,347.64 411.27,359.34 426.68,361.68 442.10,362.71 457.52,363.29 472.93,363.73 488.35,363.73 503.77,363.73 519.18,363.73 534.60,363.73" fill="none" stroke="#00ff00" stroke-width="1.15" stroke-dasharray="5 3" stroke-linejoin="round"/>
<path d="M347.90 226.02H351.30L349.60 229.08Z" fill="#00ff00"/>
<path d="M363.32 252.06H366.72L365.02 255.12Z" fill="#00ff00"/>
<path d="M378.73 305.46H382.13L380.43 308.52Z" fill="#00ff00"/>
<path d="M394.15 346.28H397.55L395.85 349.34Z" fill="#00ff00"/>
<path d="M409.57 357.98H412.97L411.27 361.04Z" fill="#00ff00"/>
<path d="M424.98 360.32H428.38L426.68 363.38Z" fill="#00ff00"/>
<path d="M440.40 361.35H443.80L442.10 364.41Z" fill="#00ff00"/>
<path d="M455.82 361.93H459.22L457.52 364.99Z" fill="#00ff00"/>
<path d="M471.23 362.37H474.63L472.93 365.43Z" fill="#00ff00"/>
<path d="M486.65 362.37H490.05L488.35 365.43Z" fill="#00ff00"/>
<path d="M502.07 362.37H505.47L503.77 365.43Z" fill="#00ff00"/>
<path d="M517.48 362.37H520.88L519.18 365.43Z" fill="#00ff00"/>
<path d="M532.90 362.37H536.30L534.60 365.43Z" fill="#00ff00"/>
<polyline points="349.60,227.38 365.02,237.62 380.43,256.20 395.85,281.80 411.27,311.21 426.68,332.28 442.10,345.44 457.52,352.03 472.93,355.39 488.35,357.29 503.77,358.61 519.18,359.19 534.60,359.19" fill="none" stroke="#00ff00" stroke-width="1.15" stroke-linejoin="round"/>
<path d="M347.90 226.02H351.30L349.60 229.08Z" fill="#00ff00"/>
<path d="M363.32 236.26H366.72L365.02 239.32Z" fill="#00ff00"/>
<path d="M378.73 254.84H382.13L380.43 257.90Z" fill="#00ff00"/>
<path d="M394.15 280.44H397.55L395.85 283.50Z" fill="#00ff00"/>
<path d="M409.57 309.85H412.97L411.27 312.91Z" fill="#00ff00"/>
<path d="M424.98 330.92H428.38L426.68 333.98Z" fill="#00ff00"/>
<path d="M440.40 344.08H443.80L442.10 347.14Z" fill="#00ff00"/>
<path d="M455.82 350.67H459.22L457.52 353.73Z" fill="#00ff00"/>
<path d="M471.23 354.03H474.63L472.93 357.09Z" fill="#00ff00"/>
<path d="M486.65 355.93H490.05L488.35 358.99Z" fill="#00ff00"/>
<path d="M502.07 357.25H505.47L503.77 360.31Z" fill="#00ff00"/>
<path d="M517.48 357.83H520.88L519.18 360.89Z" fill="#00ff00"/>
<path d="M532.90 357.83H536.30L534.60 360.89Z" fill="#00ff00"/>
<polyline points="349.60,234.25 365.02,287.65 380.43,326.42 395.85,330.67 411.27,331.10 426.68,331.54 442.10,330.96 457.52,331.54 472.93,332.13 488.35,330.23 503.77,331.10 519.18,330.23 534.60,331.10" fill="none" stroke="#ff1493" stroke-width="1.15" stroke-dasharray="5 3" stroke-linejoin="round"/>
<circle cx="349.60" cy="234.25" r="1.40" fill="#ff1493"/>
<circle cx="365.02" cy="287.65" r="1.40" fill="#ff1493"/>
<circle cx="380.43" cy="326.42" r="1.40" fill="#ff1493"/>
<circle cx="395.85" cy="330.67" r="1.40" fill="#ff1493"/>
<circle cx="411.27" cy="331.10" r="1.40" fill="#ff1493"/>
<circle cx="426.68" cy="331.54" r="1.40" fill="#ff1493"/>
<circle cx="442.10" cy="330.96" r="1.40" fill="#ff1493"/>
<circle cx="457.52" cy="331.54" r="1.40" fill="#ff1493"/>
<circle cx="472.93" cy="332.13" r="1.40" fill="#ff1493"/>
<circle cx="488.35" cy="330.23" r="1.40" fill="#ff1493"/>
<circle cx="503.77" cy="331.10" r="1.40" fill="#ff1493"/>
<circle cx="519.18" cy="330.23" r="1.40" fill="#ff1493"/>
<circle cx="534.60" cy="331.10" r="1.40" fill="#ff1493"/>
<polyline points="349.60,234.25 365.02,256.78 380.43,286.04 395.85,311.79 411.27,329.93 426.68,337.69 442.10,342.37 457.52,344.86 472.93,346.17 488.35,347.05 503.77,347.64 519.18,348.51 534.60,348.51" fill="none" stroke="#ff1493" stroke-width="1.15" stroke-linejoin="round"/>
<circle cx="349.60" cy="234.25" r="1.40" fill="#ff1493"/>
<circle cx="365.02" cy="256.78" r="1.40" fill="#ff1493"/>
<circle cx="380.43" cy="286.04" r="1.40" fill="#ff1493"/>
<circle cx="395.85" cy="311.79" r="1.40" fill="#ff1493"/>
<circle cx="411.27" cy="329.93" r="1.40" fill="#ff1493"/>
<circle cx="426.68" cy="337.69" r="1.40" fill="#ff1493"/>
<circle cx="442.10" cy="342.37" r="1.40" fill="#ff1493"/>
<circle cx="457.52" cy="344.86" r="1.40" fill="#ff1493"/>
<circle cx="472.93" cy="346.17" r="1.40" fill="#ff1493"/>
<circle cx="488.35" cy="347.05" r="1.40" fill="#ff1493"/>
<circle cx="503.77" cy="347.64" r="1.40" fill="#ff1493"/>
<circle cx="519.18" cy="348.51" r="1.40" fill="#ff1493"/>
<circle cx="534.60" cy="348.51" r="1.40" fill="#ff1493"/>
<polyline points="349.60,230.30 365.02,264.54 380.43,332.28 395.85,362.85 411.27,364.46 426.68,364.61 442.10,364.61 457.52,364.61 472.93,364.61 488.35,364.61 503.77,364.61 519.18,364.61 534.60,364.61" fill="none" stroke="#0000ff" stroke-width="1.15" stroke-dasharray="5 3" stroke-linejoin="round"/>
<path d="M349.60 228.80L351.10 230.30L349.60 231.80L348.10 230.30Z" fill="#0000ff"/>
<path d="M365.02 263.04L366.52 264.54L365.02 266.04L363.52 264.54Z" fill="#0000ff"/>
<path d="M380.43 330.78L381.93 332.28L380.43 333.78L378.93 332.28Z" fill="#0000ff"/>
<path d="M395.85 361.35L397.35 362.85L395.85 364.35L394.35 362.85Z" fill="#0000ff"/>
<path d="M411.27 362.96L412.77 364.46L411.27 365.96L409.77 364.46Z" fill="#0000ff"/>
<path d="M426.68 363.11L428.18 364.61L426.68 366.11L425.18 364.61Z" fill="#0000ff"/>
<path d="M442.10 363.11L443.60 364.61L442.10 366.11L440.60 364.61Z" fill="#0000ff"/>
<path d="M457.52 363.11L459.02 364.61L457.52 366.11L456.02 364.61Z" fill="#0000ff"/>
<path d="M472.93 363.11L474.43 364.61L472.93 366.11L471.43 364.61Z" fill="#0000ff"/>
<path d="M488.35 363.11L489.85 364.61L488.35 366.11L486.85 364.61Z" fill="#0000ff"/>
<path d="M503.77 363.11L505.27 364.61L503.77 366.11L502.27 364.61Z" fill="#0000ff"/>
<path d="M519.18 363.11L520.68 364.61L519.18 366.11L517.68 364.61Z" fill="#0000ff"/>
<path d="M534.60 363.11L536.10 364.61L534.60 366.11L533.10 364.61Z" fill="#0000ff"/>
<polyline points="349.60,230.30 365.02,244.79 380.43,275.66 395.85,315.89 411.27,343.54 426.68,358.17 442.10,361.54 457.52,364.17 472.93,364.46 488.35,364.46 503.77,364.46 519.18,364.46 534.60,364.46" fill="none" stroke="#0000ff" stroke-width="1.15" stroke-linejoin="round"/>
<path d="M349.60 228.80L351.10 230.30L349.60 231.80L348.10 230.30Z" fill="#0000ff"/>
<path d="M365.02 243.29L366.52 244.79L365.02 246.29L363.52 244.79Z" fill="#0000ff"/>
<path d="M380.43 274.16L381.93 275.66L380.43 277.16L378.93 275.66Z" fill="#0000ff"/>
<path d="M395.85 314.39L397.35 315.89L395.85 317.39L394.35 315.89Z" fill="#0000ff"/>
<path d="M411.27 342.04L412.77 343.54L411.27 345.04L409.77 343.54Z" fill="#0000ff"/>
<path d="M426.68 356.67L428.18 358.17L426.68 359.67L425.18 358.17Z" fill="#0000ff"/>
<path d="M442.10 360.04L443.60 361.54L442.10 363.04L440.60 361.54Z" fill="#0000ff"/>
<path d="M457.52 362.67L459.02 364.17L457.52 365.67L456.02 364.17Z" fill="#0000ff"/>
<path d="M472.93 362.96L474.43 364.46L472.93 365.96L471.43 364.46Z" fill="#0000ff"/>
<path d="M488.35 362.96L489.85 364.46L488.35 365.96L486.85 364.46Z" fill="#0000ff"/>
<path d="M503.77 362.96L505.27 364.46L503.77 365.96L502.27 364.46Z" fill="#0000ff"/>
<path d="M519.18 362.96L520.68 364.46L519.18 365.96L517.68 364.46Z" fill="#0000ff"/>
<path d="M534.60 362.96L536.10 364.46L534.60 365.96L533.10 364.46Z" fill="#0000ff"/>
<rect x="464.40" y="224.70" width="65.30" height="73.30" fill="#fff" stroke="#8a8a8a" stroke-width="1"/>
<line x1="467.80" y1="230.00" x2="479.00" y2="230.00" stroke="#641018" stroke-width="1.4" stroke-dasharray="7 1.9 2.3 20"/>
<circle cx="473.40" cy="230.00" r="1.51" fill="#641018"/>
<text x="479.70" y="233.10" class="lg" textLength="39.56" lengthAdjust="spacingAndGlyphs">ResNet-Std0.5</text>
<line x1="467.80" y1="239.06" x2="479.00" y2="239.06" stroke="#641018" stroke-width="1.4"/>
<circle cx="473.40" cy="239.06" r="1.51" fill="#641018"/>
<text x="479.70" y="242.16" class="lg" textLength="44.25" lengthAdjust="spacingAndGlyphs">ResNetNet-Std1</text>
<line x1="467.80" y1="248.12" x2="479.00" y2="248.12" stroke="#00ff00" stroke-width="1.4" stroke-dasharray="7 1.9 2.3 20"/>
<path d="M471.50 246.60H475.30L473.40 250.02Z" fill="#00ff00"/>
<text x="479.70" y="251.22" class="lg" textLength="46.30" lengthAdjust="spacingAndGlyphs">DenseNet-Std0.5</text>
<line x1="467.80" y1="257.18" x2="479.00" y2="257.18" stroke="#00ff00" stroke-width="1.4"/>
<path d="M471.50 255.66H475.30L473.40 259.08Z" fill="#00ff00"/>
<text x="479.70" y="260.28" class="lg" textLength="41.24" lengthAdjust="spacingAndGlyphs">DenseNet-Std1</text>
<line x1="467.80" y1="266.24" x2="479.00" y2="266.24" stroke="#ff1493" stroke-width="1.4" stroke-dasharray="7 1.9 2.3 20"/>
<circle cx="473.40" cy="266.24" r="1.57" fill="#ff1493"/>
<text x="479.70" y="269.34" class="lg" textLength="33.57" lengthAdjust="spacingAndGlyphs">STM-Std0.5</text>
<line x1="467.80" y1="275.30" x2="479.00" y2="275.30" stroke="#ff1493" stroke-width="1.4"/>
<circle cx="473.40" cy="275.30" r="1.57" fill="#ff1493"/>
<text x="479.70" y="278.40" class="lg" textLength="28.51" lengthAdjust="spacingAndGlyphs">STM-Std1</text>
<line x1="467.80" y1="284.36" x2="479.00" y2="284.36" stroke="#0000ff" stroke-width="1.4" stroke-dasharray="7 1.9 2.3 20"/>
<path d="M473.40 282.68L475.08 284.36L473.40 286.04L471.72 284.36Z" fill="#0000ff"/>
<text x="479.70" y="287.46" class="lg" textLength="40.41" lengthAdjust="spacingAndGlyphs">UATRT-Std0.5</text>
<line x1="467.80" y1="293.42" x2="479.00" y2="293.42" stroke="#0000ff" stroke-width="1.4"/>
<path d="M473.40 291.74L475.08 293.42L473.40 295.10L471.72 293.42Z" fill="#0000ff"/>
<text x="479.70" y="296.52" class="lg" textLength="35.35" lengthAdjust="spacingAndGlyphs">UATRT-Std1</text>
</svg>
</body></html>
